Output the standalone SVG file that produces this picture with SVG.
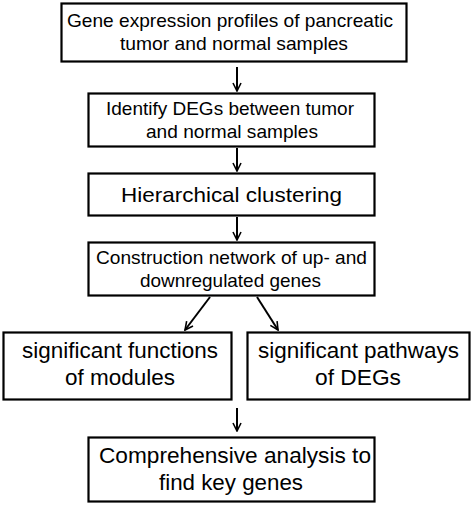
<svg xmlns="http://www.w3.org/2000/svg" width="474" height="506" viewBox="0 0 474 506">
<defs>
<style>
.box{fill:#fff;stroke:#000;stroke-width:2.2}
.t{font-family:"Liberation Sans",Arial,sans-serif;fill:#000;text-anchor:middle}
.s{font-size:18.5px}
.m{font-size:21px}
.l{font-size:22px}
.c{stroke:#000;stroke-width:2;fill:none}
</style>
<marker id="ah" viewBox="0 0 10 10" refX="9" refY="5" markerWidth="10" markerHeight="10" markerUnits="userSpaceOnUse" orient="auto">
<path d="M1,1 L9,5 L1,9" fill="none" stroke="#000" stroke-width="1.6"/>
</marker>
</defs>
<g id="connectors">
<line class="c" x1="237" y1="67" x2="237" y2="91" marker-end="url(#ah)"/>
<line class="c" x1="237" y1="148" x2="237" y2="171" marker-end="url(#ah)"/>
<line class="c" x1="237" y1="217" x2="237" y2="240" marker-end="url(#ah)"/>
<line class="c" x1="210" y1="297" x2="185" y2="330" marker-end="url(#ah)"/>
<line class="c" x1="257" y1="297" x2="278" y2="330" marker-end="url(#ah)"/>
<line class="c" x1="237" y1="408" x2="237" y2="431" marker-end="url(#ah)"/>
</g>
<g id="n1">
<rect class="box" x="61.5" y="3.5" width="345" height="58"/>
<text class="t s" x="230" y="27" textLength="326" lengthAdjust="spacingAndGlyphs">Gene expression profiles of  pancreatic</text>
<text class="t s" x="234" y="50" textLength="228" lengthAdjust="spacingAndGlyphs">tumor and  normal samples</text>
</g>
<g id="n2">
<rect class="box" x="88.5" y="93.5" width="286" height="53"/>
<text class="t s" x="230" y="115" textLength="248" lengthAdjust="spacingAndGlyphs">Identify DEGs between  tumor</text>
<text class="t s" x="232" y="138" textLength="172" lengthAdjust="spacingAndGlyphs">and  normal samples</text>
</g>
<g id="n3">
<rect class="box" x="88.5" y="173.5" width="286" height="42"/>
<text class="t m" x="231.5" y="202" textLength="221" lengthAdjust="spacingAndGlyphs">Hierarchical clustering</text>
</g>
<g id="n4">
<rect class="box" x="88.5" y="242.5" width="286" height="53"/>
<text class="t s" x="231.5" y="264" textLength="271" lengthAdjust="spacingAndGlyphs">Construction network of  up- and</text>
<text class="t s" x="230.5" y="287" textLength="181" lengthAdjust="spacingAndGlyphs">downregulated genes</text>
</g>
<g id="n5">
<rect class="box" x="3.5" y="332.5" width="228" height="67"/>
<text class="t l" x="120" y="358" textLength="196" lengthAdjust="spacingAndGlyphs">significant functions</text>
<text class="t l" x="120" y="385" textLength="110" lengthAdjust="spacingAndGlyphs">of modules</text>
</g>
<g id="n6">
<rect class="box" x="247.5" y="332.5" width="222" height="67"/>
<text class="t l" x="358.5" y="358" textLength="201" lengthAdjust="spacingAndGlyphs">significant pathways</text>
<text class="t l" x="358" y="385" textLength="86" lengthAdjust="spacingAndGlyphs">of DEGs</text>
</g>
<g id="n7">
<rect class="box" x="88.5" y="437.5" width="286" height="64"/>
<text class="t l" x="235" y="463" textLength="272" lengthAdjust="spacingAndGlyphs">Comprehensive analysis to</text>
<text class="t l" x="231" y="490" textLength="144" lengthAdjust="spacingAndGlyphs">find key genes</text>
</g>
</svg>
